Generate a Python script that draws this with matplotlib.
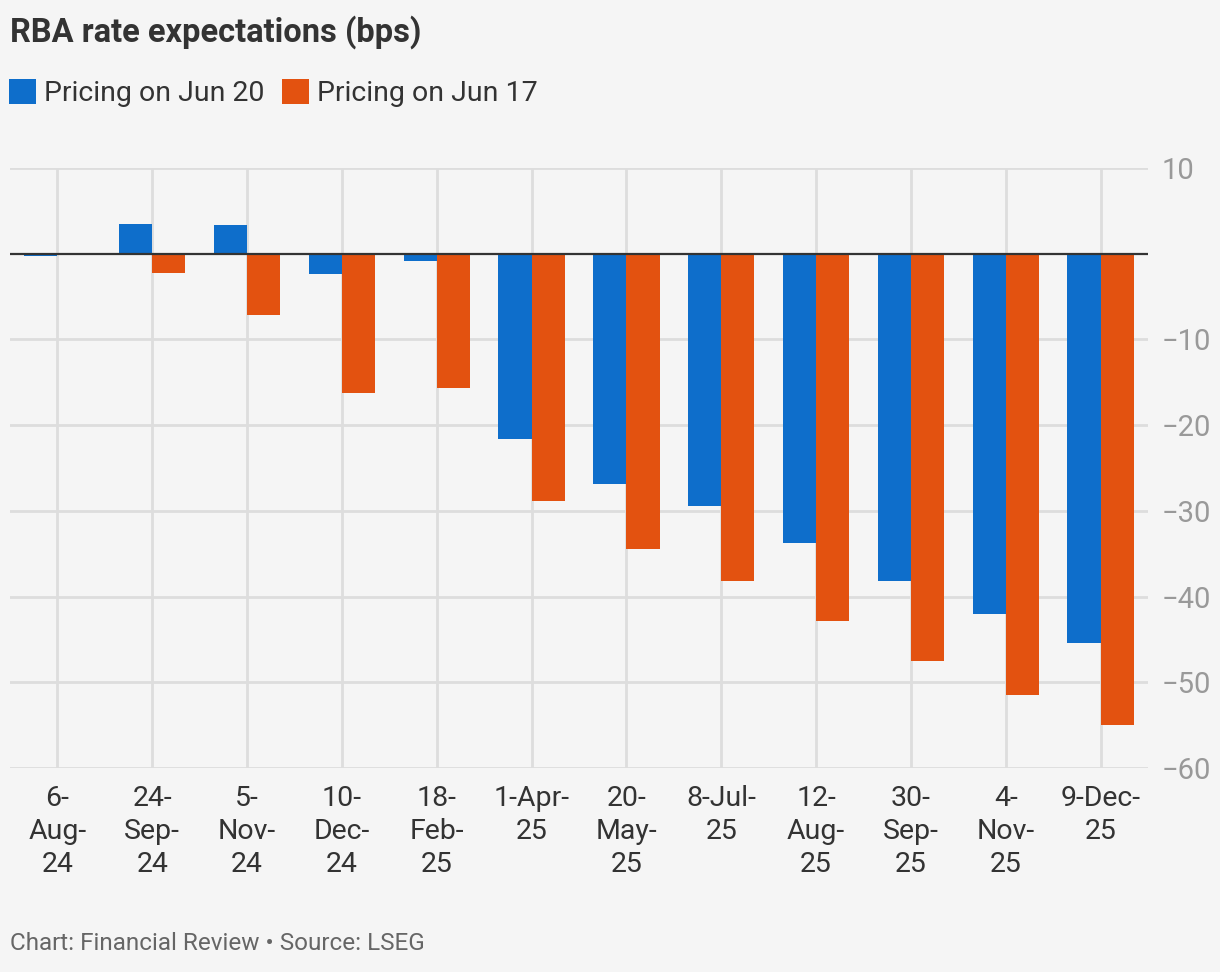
import matplotlib
matplotlib.use("Agg")
import matplotlib.pyplot as plt
import numpy as np
from matplotlib.patches import Patch

categories = ["6-\nAug-\n24", "24-\nSep-\n24", "5-\nNov-\n24", "10-\nDec-\n24", "18-\nFeb-\n25",
              "1-Apr-\n25", "20-\nMay-\n25", "8-Jul-\n25", "12-\nAug-\n25", "30-\nSep-\n25",
              "4-\nNov-\n25", "9-Dec-\n25"]
pricing_jun20 = [-0.3, 3.5, 3.3, -2.4, -0.9, -21.6, -26.9, -29.4, -33.8, -38.2, -42.0, -45.4]
pricing_jun17 = [0.0, -2.2, -7.1, -16.2, -15.7, -28.9, -34.5, -38.2, -42.8, -47.5, -51.5, -55.0]
yticks = [10, -10, -20, -30, -40, -50, -60]
ytick_labels = ["10", "\u221210", "\u221220", "\u221230", "\u221240", "\u221250", "\u221260"]

BLUE = "#0e6ecb"
ORANGE = "#e35210"
BG = "#f5f5f5"
FONT = ["Roboto", "DejaVu Sans"]
plt.rcParams["font.family"] = FONT

fig = plt.figure(figsize=(12.2, 9.72), dpi=100, facecolor=BG)
ax = fig.add_axes([10/1220, 1-768/972, (1148-10)/1220, (768-168)/972])
ax.set_facecolor(BG)

x = np.arange(len(categories))
w = 0.35
ax.bar(x - w/2, pricing_jun20, width=w, color=BLUE, zorder=3)
ax.bar(x + w/2, pricing_jun17, width=w, color=ORANGE, zorder=3)

ax.set_xlim(-0.5, len(categories) - 0.5)
ax.set_ylim(-60, 10)
for s in ax.spines.values():
    s.set_visible(False)

ax.set_yticks(yticks)
ax.set_yticklabels(ytick_labels)
ax.yaxis.tick_right()
ax.tick_params(axis="y", length=0, pad=10, labelsize=21, labelcolor="#999999")
ax.set_xticks(x)
ax.set_xticklabels(categories, linespacing=1.3)
ax.tick_params(axis="x", length=0, pad=12, labelsize=20.5, labelcolor="#333333")

for yv in yticks:
    ax.axhline(yv, color="#dddddd", lw=2, zorder=1)
for xv in x:
    ax.axvline(xv, color="#dddddd", lw=2, zorder=1)
ax.axhline(0, color="#333333", lw=1.6, zorder=4)

fig.text(10/1220, 1-32/972, "RBA rate expectations (bps)", fontsize=23.5, fontweight="bold",
         color="#333333", ha="left", va="center")

handles = [Patch(facecolor=BLUE, label="Pricing on Jun 20"),
           Patch(facecolor=ORANGE, label="Pricing on Jun 17")]
fig.legend(handles=handles, loc="center left", bbox_to_anchor=(0.0, 1-93/972), ncol=2,
           frameon=False, fontsize=20.5, labelcolor="#333333", handlelength=0.95, handleheight=1.0,
           handletextpad=0.3, columnspacing=0.6, borderaxespad=0, borderpad=0.3)

fig.text(10/1220, 1-943/972, "Chart: Financial Review \u2022 Source: LSEG", fontsize=17.5,
         color="#666666", ha="left", va="center")

fig.savefig("out.png", dpi=100, facecolor=BG)
